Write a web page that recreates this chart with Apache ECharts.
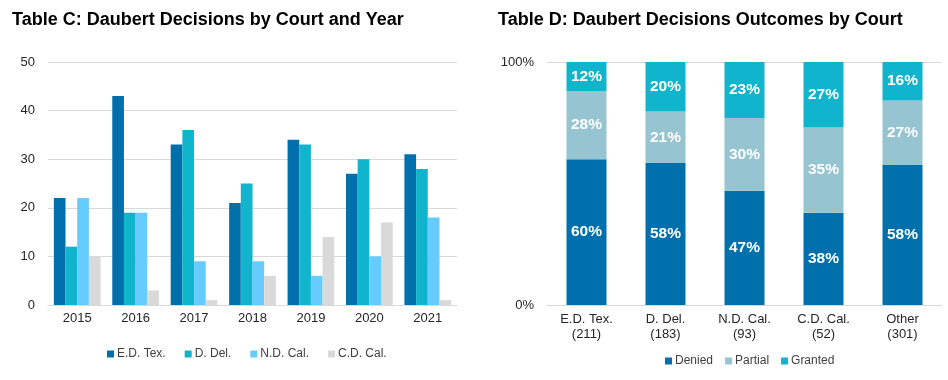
<!DOCTYPE html>
<html><head><meta charset="utf-8">
<script src="https://cdn.jsdelivr.net/npm/echarts@6/dist/echarts.min.js"></script>
<style>html,body{margin:0;padding:0;background:#fff}#c{width:948px;height:380px}</style>
</head><body><div id="c"></div>
<script>
const years = ['2015','2016','2017','2018','2019','2020','2021'];
const edTex = [22,43,33,21,34,27,31];
const dDel = [12,19,36,25,33,30,28];
const ndCal = [22,19,9,9,6,10,18];
const cdCal = [10,3,1,6,14,17,1];

const courts = ['E.D. Tex.\n(211)','D. Del.\n(183)','N.D. Cal.\n(93)','C.D. Cal.\n(52)','Other\n(301)'];
const denied = [60,58.4,47,38,57.6];
const partial = [28,21.2,30,35,26.6];
const granted = [12,20.4,23,27,15.8];

const FONT = 'Liberation Sans, Arial, sans-serif';
const C1='#0070AC', C2='#10B4CC', C3='#66CCFF', C4='#D9D9D9', CP='#96C4D0';
const chart = echarts.init(document.getElementById('c'));
const axLabel = {color:'#262626', fontFamily:FONT, fontSize:13};
const pctLabel = {show:true, position:'inside', color:'#fff', fontWeight:'bold', fontFamily:FONT, fontSize:15.5, formatter:p=>Math.round(p.value)+'%'};
chart.setOption({
  animation:false,
  textStyle:{fontFamily:FONT},
  title:[
    {text:'Table C: Daubert Decisions by Court and Year', left:7, top:6, textStyle:{fontFamily:FONT, fontSize:18, fontWeight:'bold', color:'#000'}},
    {text:'Table D: Daubert Decisions Outcomes by Court', left:493, top:6, textStyle:{fontFamily:FONT, fontSize:18, fontWeight:'bold', color:'#000'}}
  ],
  legend:[
    {data:['E.D. Tex.','D. Del.','N.D. Cal.','C.D. Cal.'], left:102, top:343, icon:'rect', itemWidth:7, itemHeight:7, itemGap:19, textStyle:{color:'#404040', fontFamily:FONT, fontSize:12, padding:[0,0,0,-2]}},
    {data:['Denied','Partial','Granted'], left:660, top:350, icon:'rect', itemWidth:7, itemHeight:7, itemGap:12, textStyle:{color:'#404040', fontFamily:FONT, fontSize:12, padding:[0,0,0,-2]}}
  ],
  grid:[
    {left:48, right:491, top:62, bottom:75},
    {left:547, right:6, top:62, bottom:75}
  ],
  xAxis:[
    {gridIndex:0, type:'category', data:years, axisTick:{show:false}, axisLine:{lineStyle:{color:'#D9D9D9'}}, axisLabel:Object.assign({margin:7}, axLabel)},
    {gridIndex:1, type:'category', data:courts, axisTick:{show:false}, axisLine:{lineStyle:{color:'#D9D9D9'}}, axisLabel:Object.assign({margin:7, lineHeight:15}, axLabel)}
  ],
  yAxis:[
    {gridIndex:0, type:'value', min:0, max:50, interval:10, axisLabel:Object.assign({margin:13}, axLabel), splitLine:{lineStyle:{color:'#D9D9D9'}}},
    {gridIndex:1, type:'value', min:0, max:100, interval:100, axisLabel:Object.assign({margin:13, formatter:'{value}%'}, axLabel), splitLine:{lineStyle:{color:'#D9D9D9'}}}
  ],
  series:[
    {name:'E.D. Tex.', type:'bar', xAxisIndex:0, yAxisIndex:0, data:edTex, itemStyle:{color:C1}, barGap:'0%', barCategoryGap:'20%'},
    {name:'D. Del.', type:'bar', xAxisIndex:0, yAxisIndex:0, data:dDel, itemStyle:{color:C2}},
    {name:'N.D. Cal.', type:'bar', xAxisIndex:0, yAxisIndex:0, data:ndCal, itemStyle:{color:C3}},
    {name:'C.D. Cal.', type:'bar', xAxisIndex:0, yAxisIndex:0, data:cdCal, itemStyle:{color:C4}},
    {name:'Denied', type:'bar', stack:'o', xAxisIndex:1, yAxisIndex:1, data:denied, barWidth:40, itemStyle:{color:C1}, label:pctLabel},
    {name:'Partial', type:'bar', stack:'o', xAxisIndex:1, yAxisIndex:1, data:partial, barWidth:40, itemStyle:{color:CP}, label:pctLabel},
    {name:'Granted', type:'bar', stack:'o', xAxisIndex:1, yAxisIndex:1, data:granted, barWidth:40, itemStyle:{color:C2}, label:pctLabel}
  ]
});
</script></body></html>
